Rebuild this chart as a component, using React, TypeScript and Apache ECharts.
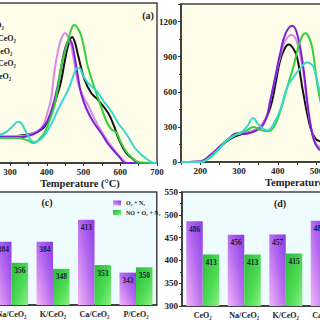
import React, { useEffect, useRef } from "react";
import * as echarts from "echarts";

const FONT = "'Liberation Serif', 'Times New Roman', serif";
const OFF = 60; // the chart canvas starts 60px left of the window

const lineNames = ["CeO₂", "Na/CeO₂", "K/CeO₂", "Ca/CeO₂", "P/CeO₂"];
const lineColors = ["#111111", "#d98be8", "#7a22d6", "#38cf3c", "#36d8d0"];

// Panel (a): [temperature °C, intensity a.u.]
const aCeO2 = [[150,26],[200,26],[275,26],[320,27],[365,30],[393,36],[412,50],[430,70],[439,82],[450,104],[460,120],[469,126],[477,120],[485,108],[502,84],[521,70],[540,63],[567,50],[583,37],[597,23],[616,10],[638,3],[649,0],[700,0]];
const aNaCeO2 = [[150,27],[275,27],[330,27],[365,30],[385,35],[393,40],[403,52],[412,65],[420,90],[431,113],[440,125],[450,130],[458,126],[466,118],[475,100],[485,80],[500,66],[512,58],[530,44],[548,32],[570,20],[590,10],[605,4],[618,0],[700,0]];
const aKCeO2 = [[150,26],[275,26],[330,26],[365,29],[385,34],[403,43],[420,62],[430,78],[439,96],[450,115],[461,123],[468,120],[474,110],[484,88],[493,70],[507,55],[525,42],[548,30],[565,20],[583,12],[600,5],[614,0],[700,0]];
const aCaCeO2 = [[150,25],[275,25],[320,25],[345,23],[365,20],[380,24],[393,30],[405,40],[420,56],[430,75],[439,96],[450,112],[458,123],[466,133],[474,138],[482,136],[493,128],[503,112],[512,96],[529,76],[548,56],[562,42],[575,34],[590,30],[600,22],[615,12],[630,6],[649,1],[700,0]];
const aPCeO2 = [[150,28],[260,28],[285,30],[305,36],[320,41],[330,40],[345,30],[365,21],[385,24],[403,33],[418,43],[430,53],[444,63],[458,73],[470,85],[480,94],[488,95],[498,88],[512,80],[527,75],[540,70],[556,61],[575,52],[594,40],[611,32],[625,24],[638,16],[655,9],[676,3],[692,0],[700,0]];

// Panel (b)
const bCeO2 = [[150,0],[200,5],[226,60],[250,130],[270,180],[290,220],[310,240],[340,270],[360,320],[381,468],[395,680],[406,867],[418,970],[428,1003],[440,970],[450,893],[466,586],[484,297],[497,200],[510,175],[530,150],[560,100],[600,40],[650,5],[700,0],[800,0]];
const bNaCeO2 = [[150,0],[200,4],[226,58],[250,130],[270,190],[295,240],[320,250],[350,290],[370,380],[381,530],[395,740],[406,900],[420,1040],[436,1085],[450,1020],[466,760],[479,430],[493,200],[506,130],[530,90],[600,25],[650,0],[800,0]];
const bKCeO2 = [[150,0],[200,3],[226,55],[250,130],[270,190],[295,245],[310,240],[330,250],[355,290],[370,370],[381,527],[395,750],[406,926],[420,1096],[437,1165],[450,1096],[466,808],[479,442],[493,187],[506,110],[520,90],[550,60],[600,20],[650,0],[800,0]];
const bCaCeO2 = [[150,0],[200,0],[226,40],[250,120],[270,190],[295,240],[320,270],[337,300],[355,275],[373,262],[390,300],[405,420],[415,527],[428,680],[440,808],[458,1037],[471,1100],[480,1070],[489,978],[502,671],[515,450],[530,300],[560,150],[600,60],[650,10],[700,0],[800,0]];
const bPCeO2 = [[150,0],[200,0],[226,45],[250,120],[270,185],[290,230],[303,245],[320,300],[337,375],[350,320],[373,270],[390,330],[406,442],[424,637],[440,722],[458,800],[476,850],[485,840],[493,808],[506,637],[520,500],[540,350],[570,200],[610,80],[660,15],[700,0],[800,0]];

const barCategories = ["CeO₂", "Na/CeO₂", "K/CeO₂", "Ca/CeO₂", "P/CeO₂"];
const barNames = ["O₂ + N₂", "NO + O₂ + N₂"];
// Panel (c) (values not visible in the crop are null)
const cO2N2 = [null, 384, 384, 413, 343];
const cNOO2N2 = [null, 356, 348, 353, 350];
// Panel (d)
const dO2N2 = [486, 456, 457, 487, null];
const dNOO2N2 = [413, 413, 415, null, null];

const tempTicks = [200, 300, 400, 500, 600, 700, 800];

export default function App() {
  const ref = useRef<HTMLDivElement>(null);
  useEffect(() => {
    if (!ref.current) return;
    const chart = echarts.init(ref.current, null, { renderer: "svg" });
    const purple = new echarts.graphic.LinearGradient(0, 1, 1, 0, [
      { offset: 0, color: "#f3b6f6" },
      { offset: 0.55, color: "#b468f0" },
      { offset: 1, color: "#8a3be8" },
    ]);
    const green = new echarts.graphic.LinearGradient(0, 0, 1, 1, [
      { offset: 0, color: "#2cbb38" },
      { offset: 0.6, color: "#4fdc55" },
      { offset: 1, color: "#8eee88" },
    ]);
    const axisLine = { show: true, lineStyle: { color: "#333", width: 1.5 } };
    const lbl = { fontFamily: FONT, fontWeight: "bold" as const, fontSize: 9, color: "#222" };
    const tempAxis = (gridIndex: number, max: number) => ({
      type: "value" as const,
      gridIndex,
      min: 150,
      max,
      interval: 50,
      axisLine,
      axisTick: { show: true, length: 3, lineStyle: { color: "#333" } },
      axisLabel: {
        ...lbl,
        margin: 4,
        formatter: (v: number) => (tempTicks.includes(v) ? String(v) : ""),
      },
      splitLine: { show: false },
    });
    const gridStyle = (bg: string) => ({
      show: true,
      backgroundColor: bg,
      borderColor: "#444",
      borderWidth: 1.5,
    });
    const lineSeries = (data: number[][], i: number, axis: number) => ({
      type: "line" as const,
      name: lineNames[i],
      data,
      xAxisIndex: axis,
      yAxisIndex: axis,
      smooth: 0.4,
      showSymbol: false,
      color: lineColors[i],
      lineStyle: { width: 2, color: lineColors[i] },
      z: i === 3 || i === 4 ? 3 : 2,
    });
    const barLabel = {
      show: true,
      position: "insideTop" as const,
      distance: 4,
      fontFamily: FONT,
      fontWeight: "bold" as const,
      fontSize: 7.5,
      color: "#1c1c3a",
    };
    const catAxis = (gridIndex: number) => ({
      type: "category" as const,
      gridIndex,
      data: barCategories,
      axisLine,
      axisTick: { show: false },
      axisLabel: { ...lbl, fontSize: 8, margin: 5, interval: 0 },
    });
    const option = {
      animation: false,
      backgroundColor: "#ffffff",
      grid: [
        { left: OFF - 45, top: 3, width: 202, height: 160, ...gridStyle("#fdfde9") },
        { left: OFF + 181, top: 4, width: 251.6, height: 158, ...gridStyle("#fdfde9") },
        { left: OFF - 50.75, top: 192, width: 207.5, height: 113, ...gridStyle("#effcff") },
        { left: OFF + 182, top: 192, width: 207.5, height: 114, ...gridStyle("#effcff") },
      ],
      legend: [
        {
          data: lineNames,
          orient: "vertical",
          left: OFF - 45,
          top: 16,
          itemWidth: 20,
          itemHeight: 8,
          itemGap: 4.5,
          textStyle: { fontFamily: FONT, fontWeight: "bold", fontSize: 8, color: "#222" },
        },
        {
          data: barNames,
          orient: "vertical",
          left: OFF + 108,
          top: 195,
          itemWidth: 8,
          itemHeight: 5,
          itemGap: 3.5,
          icon: "rect",
          textStyle: { fontFamily: FONT, fontWeight: "bold", fontSize: 6, color: "#222" },
        },
      ],
      xAxis: [tempAxis(0, 700), tempAxis(1, 800), catAxis(2), catAxis(3)],
      yAxis: [
        {
          type: "value",
          gridIndex: 0,
          min: 0,
          max: 160,
          axisLine,
          axisTick: { show: false },
          axisLabel: { show: false },
          splitLine: { show: false },
        },
        {
          type: "value",
          gridIndex: 1,
          min: 0,
          max: 1350,
          interval: 300,
          axisLine,
          axisTick: { show: true, length: 3, lineStyle: { color: "#333" } },
          minorTick: { show: true, splitNumber: 2, length: 2, lineStyle: { color: "#333" } },
          axisLabel: { ...lbl, margin: 4, showMaxLabel: false, formatter: (v: number) => String(v) },
          splitLine: { show: false },
        },
        {
          type: "value",
          gridIndex: 2,
          min: 300,
          max: 450,
          axisLine,
          axisTick: { show: false },
          axisLabel: { show: false },
          splitLine: { show: false },
        },
        {
          type: "value",
          gridIndex: 3,
          min: 300,
          max: 550,
          interval: 50,
          axisLine,
          axisTick: { show: true, length: 3, lineStyle: { color: "#333" } },
          minorTick: { show: true, splitNumber: 2, length: 2, lineStyle: { color: "#333" } },
          axisLabel: { ...lbl, margin: 4 },
          splitLine: { show: false },
        },
      ],
      series: [
        lineSeries(aCeO2, 0, 0),
        lineSeries(aNaCeO2, 1, 0),
        lineSeries(aKCeO2, 2, 0),
        lineSeries(aCaCeO2, 3, 0),
        lineSeries(aPCeO2, 4, 0),
        lineSeries(bCeO2, 0, 1),
        lineSeries(bNaCeO2, 1, 1),
        lineSeries(bKCeO2, 2, 1),
        lineSeries(bCaCeO2, 3, 1),
        lineSeries(bPCeO2, 4, 1),
        {
          type: "bar", name: barNames[0], data: cO2N2, xAxisIndex: 2, yAxisIndex: 2,
          barWidth: 16.5, barGap: "0%", itemStyle: { color: purple }, label: barLabel,
        },
        {
          type: "bar", name: barNames[1], data: cNOO2N2, xAxisIndex: 2, yAxisIndex: 2,
          barWidth: 16.5, barGap: "0%", itemStyle: { color: green }, label: barLabel,
        },
        {
          type: "bar", name: barNames[0], data: dO2N2, xAxisIndex: 3, yAxisIndex: 3,
          barWidth: 16.5, barGap: "0%", itemStyle: { color: purple }, label: barLabel,
        },
        {
          type: "bar", name: barNames[1], data: dNOO2N2, xAxisIndex: 3, yAxisIndex: 3,
          barWidth: 16.5, barGap: "0%", itemStyle: { color: green }, label: barLabel,
        },
      ],
      graphic: [
        { type: "text", x: OFF + 148, y: 15, style: { text: "(a)", font: `bold 10px ${FONT}`, fill: "#222", align: "center", verticalAlign: "middle" } },
        { type: "text", x: OFF + 47, y: 202, style: { text: "(c)", font: `bold 10px ${FONT}`, fill: "#222", align: "center", verticalAlign: "middle" } },
        { type: "text", x: OFF + 280, y: 203, style: { text: "(d)", font: `bold 10px ${FONT}`, fill: "#222", align: "center", verticalAlign: "middle" } },
        { type: "text", x: OFF + 80, y: 183, style: { text: "Temperature (°C)", font: `bold 10.5px ${FONT}`, fill: "#222", align: "center", verticalAlign: "middle" } },
        { type: "text", x: OFF + 265, y: 182, style: { text: "Temperature (°C)", font: `bold 10.5px ${FONT}`, fill: "#222", align: "left", verticalAlign: "middle" } },
      ],
    };
    chart.setOption(option as any);
    return () => chart.dispose();
  }, []);
  return (
    <div
      ref={ref}
      style={{ position: "fixed", left: -OFF, top: 0, width: 520, height: 320 }}
    />
  );
}
